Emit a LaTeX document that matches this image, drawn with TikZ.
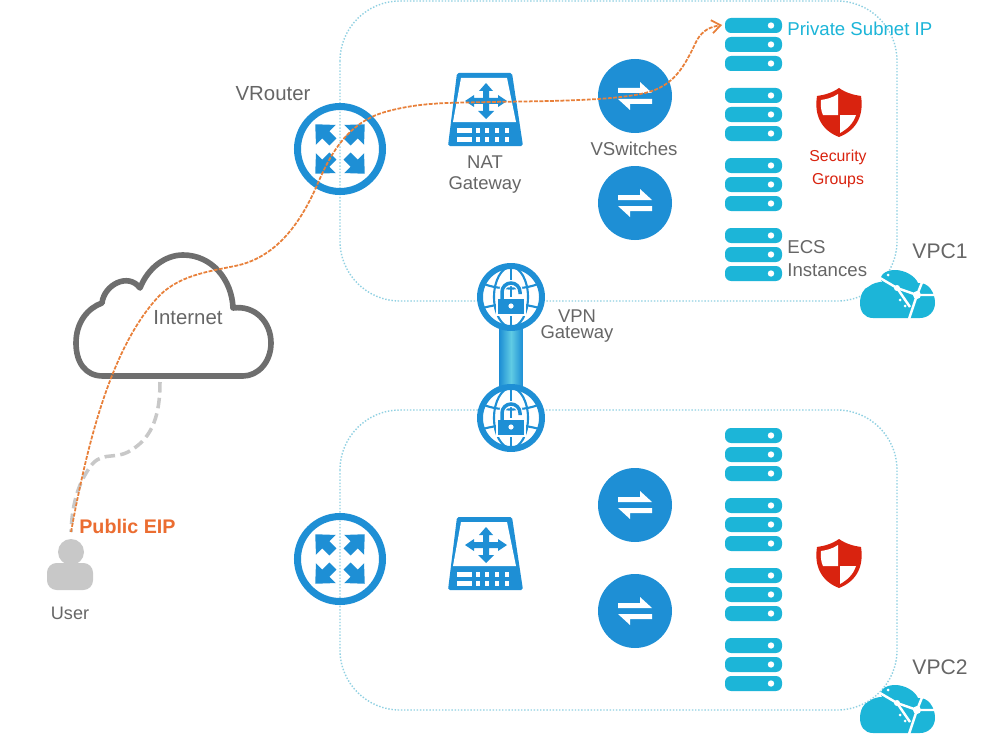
\documentclass[tikz,border=0pt]{standalone}
\usepackage{fontspec}
\setmainfont{Liberation Sans}
\usetikzlibrary{arrows.meta,shadings}
\definecolor{cblue}{HTML}{1E8FD5}
\definecolor{ccyan}{HTML}{1CB5D8}
\definecolor{cred}{HTML}{D9230F}
\definecolor{corange}{HTML}{E8803A}
\definecolor{ctxt}{HTML}{666666}
\definecolor{cdot}{HTML}{8FD0E2}
\definecolor{ccloud}{HTML}{6E6E6E}
\definecolor{cgrey}{HTML}{C8C8C8}
\tikzset{
 x=0.02cm,y=-0.02cm,
 lab/.style={inner sep=0pt,text=ctxt,align=center,font=\fontsize{10.6}{12}\selectfont},
 labbig/.style={lab,font=\fontsize{11.6}{13}\selectfont},
 vpcbox/.style={draw=cdot,line width=0.8pt,densely dotted,rounded corners=1.2cm},
 routerpic/.pic={
  \draw[cblue,line width=4pt] (0,0) circle (42.5);
  \foreach \a in {45,135,225,315}{
   \fill[cblue,rotate=\a] (35,0)--(20,14)--(20,5)--(10,5)--(10,-5)--(20,-5)--(20,-14)--cycle;}
 },
 natpic/.pic={
  \fill[cblue,rounded corners=1pt] (-29,-37)--(26,-37)--(37,36)--(-38,36)--cycle;
  \fill[white] (-25,-32)--(21,-32)--(30,12)--(-33,12)--cycle;
  \fill[cblue] (-21,-9)--(-12,-15)--(-12,-12)--(-3,-12)--(-3,-19)--(-7,-19)--(0,-27)--(7,-19)--(3,-19)--(3,-12)--(12,-12)--(12,-15)--(21,-9)--(12,-3)--(12,-6)--(3,-6)--(3,1)--(8,1)--(0,9)--(-8,1)--(-3,1)--(-3,-6)--(-12,-6)--(-12,-3)--cycle;
  \foreach \y in {18,27}{
   \fill[white] (-29,\y) rectangle (-14,\y+4.5);
   \foreach \x in {-8,1,11,21}{\fill[white] (\x-2,\y) rectangle (\x+2,\y+4.5);}
  }
 },
 switchpic/.pic={
  \fill[cblue] (0,0) circle (37);
  \fill[white] (-17,-8)--(5,-8)--(5,-14)--(17,-3)--(-17,-3)--cycle;
  \fill[white] (17,8)--(-5,8)--(-5,14)--(-17,3)--(17,3)--cycle;
 },
 serverpic/.pic={
  \foreach \y in {0,19,38}{
   \fill[ccyan,rounded corners=3.5pt] (0,\y) rectangle (57,\y+15);
   \fill[white] (46,\y+7.5) circle (3.2);
  }
 },
 shieldpic/.pic={
  \fill[cred] (0,-25) .. controls (7,-20) and (15,-18) .. (22,-17) .. controls (25,2) and (18,17) .. (0,24) .. controls (-18,17) and (-25,2) .. (-22,-17) .. controls (-15,-18) and (-7,-20) .. (0,-25) -- cycle;
  \fill[white] (-1,-19) .. controls (-7,-15) and (-12,-14) .. (-18,-13) .. controls (-18.5,-7) and (-18,-2) .. (-16,2) -- (-1,2) -- cycle;
  \fill[white] (1,2) -- (17,2) .. controls (14,11) and (8,16) .. (1,20) -- cycle;
 },
 vpnpic/.pic={
  \fill[white] (0,0) circle (32);
  \draw[cblue,line width=1.2pt] (0,0) ellipse (17 and 30);
  \draw[cblue,line width=1.2pt] (0,-30) -- (0,30);
  \draw[cblue,line width=1.2pt] (-27,-13) .. controls (-12,-7) and (12,-7) .. (27,-13);
  \draw[cblue,line width=1.2pt] (-28,11) .. controls (-12,6) and (12,6) .. (28,11);
  \fill[white] (-15,0) rectangle (15,19);
  \draw[white,line width=3.4pt] (-9,3) -- (-9,-5) arc[start angle=180,end angle=0,x radius=9,y radius=-9] -- (9,-3);
  \draw[cblue,line width=3.4pt] (0,0) circle (31);
  \draw[cblue,line width=2pt] (-9,3) -- (-9,-5) arc[start angle=180,end angle=0,x radius=9,y radius=-9] -- (9,-3);
  \fill[cblue] (-13,2) rectangle (13,17);
  \fill[white] (0,9) circle (2.6);
 },
 vpccloudpic/.pic={
  \fill[ccyan] (13,48) .. controls (4,48) and (0,41) .. (0,33) .. controls (0,25) and (4,18) .. (8,17) .. controls (13,13) and (18,12) .. (22,12) .. controls (18,6) and (25,0) .. (35,0) .. controls (45,0) and (55,6) .. (58,13) .. controls (68,12) and (75,22) .. (75,33) .. controls (75,42) and (68,48) .. (60,48) -- cycle;
  \draw[white,line width=1.4pt,line cap=round] (20,8) -- (37,18) -- (57,25) -- (76,25);
  \draw[white,line width=1.4pt] (57,25) -- (49,49);
  \draw[white,line width=1.4pt] (57,25) -- (63,10);
  \draw[white,line width=1.4pt] (37,18) -- (50,37);
  \fill[white] (37,18) circle (3) (57,25) circle (4) (28,5) circle (1.5) (40,30) circle (1.5) (45,36) circle (1.5);
 },
}
\begin{document}
\begin{tikzpicture}
\useasboundingbox (0,0) rectangle (1000,740);
\fill[white] (0,0) rectangle (1000,740);

% VPC frames
\draw[vpcbox] (340,1) rectangle (897,301);
\draw[vpcbox] (340,410) rectangle (897,710);

% Internet cloud
\draw[ccloud,line width=3.2pt,line join=round] (103,376) .. controls (85,376) and (76,362) .. (76,343) .. controls (76,322) and (88,308) .. (102,303) .. controls (104,285) and (128,272) .. (140,288) .. controls (148,268) and (165,255) .. (183,255) .. controls (212,255) and (232,280) .. (233,308) .. controls (255,305) and (271,322) .. (271,343) .. controls (271,362) and (258,376) .. (243,376) -- cycle;

% coordinates of connector ends
\coordinate (userTop) at (71,532);
\coordinate (cloudBase) at (160,382);
\coordinate (serverIn) at (722,25);
\coordinate (vpnTop) at (511,297);
\coordinate (vpnBot) at (511,418);

% VPN link
\shade[left color=cblue,right color=cblue,middle color=ccyan!70!white] ([xshift=-11.5*0.02cm]vpnTop) rectangle ([xshift=11.5*0.02cm]vpnBot);

% icons VPC1
\pic (r1) at (340,149) {routerpic};
\pic (n1) at (486,110) {natpic};
\pic (s1) at (635,96) {switchpic};
\pic (s2) at (635,203) {switchpic};
\pic (a1) at (725,18) {serverpic};
\pic (a2) at (725,88) {serverpic};
\pic (a3) at (725,158) {serverpic};
\pic (a4) at (725,228) {serverpic};
\pic (sh1) at (839,113) {shieldpic};
\pic (c1) at (860,270) {vpccloudpic};
% icons VPC2
\pic (r2) at (340,559) {routerpic};
\pic (n2) at (486,554) {natpic};
\pic (s3) at (635,505) {switchpic};
\pic (s4) at (635,611) {switchpic};
\pic (b1) at (725,428) {serverpic};
\pic (b2) at (725,498) {serverpic};
\pic (b3) at (725,568) {serverpic};
\pic (b4) at (725,638) {serverpic};
\pic (sh2) at (839,564) {shieldpic};
\pic (c2) at (860,685) {vpccloudpic};
% VPN
\pic (v1) at (vpnTop) {vpnpic};
\pic (v2) at (vpnBot) {vpnpic};

% user
\fill[cgrey] (71,552) circle (13);
\fill[cgrey,rounded corners=5.5pt] (47,590) -- (47,563) -- (93,563) -- (93,590) -- cycle;

% connectors
\draw[cgrey,line width=2pt,dash pattern=on 6pt off 3pt] (cloudBase) .. controls (160,420) and (150,440) .. (128,452) .. controls (112,460) and (100,450) .. (88,470) .. controls (78,485) and (72,505) .. (userTop);
\draw[corange,line width=1pt,dash pattern=on 2.2pt off 0.8pt,-{Straight Barb[length=5pt,width=7.5pt]}] (userTop) .. controls (88,440) and (112,345) .. (160,295) .. controls (180,276) and (205,272) .. (235,266) .. controls (275,258) and (300,225) .. (318,183) .. controls (332,150) and (350,122) .. (385,112) .. controls (420,102) and (450,103) .. (490,102) .. controls (550,101) and (610,101) .. (645,93) .. controls (675,86) and (685,65) .. (697,40) .. controls (703,30) and (710,27) .. (serverIn);

% labels
\node[labbig] (tR) at (273,94) {VRouter};
\node[lab,font=\fontsize{10.5}{11}\selectfont] (tN) at (485,175) {NAT\\[1pt]Gateway};
\node[lab] (tS) at (634,149) {VSwitches};
\node[lab,text=ccyan,anchor=west] (tP) at (787,29) {Private Subnet IP};
\node[lab,text=cred,font=\fontsize{9}{13}\selectfont] (tG) at (838,169) {Security\\[-0.2pt]Groups};
\node[lab,anchor=west] (tE) at (787,247) {ECS};
\node[lab,anchor=west] (tI) at (787,270) {Instances};
\node[lab,font=\fontsize{12}{14}\selectfont] (tV1) at (940,251) {VPC1};
\node[lab,font=\fontsize{12}{14}\selectfont] (tV2) at (940,667) {VPC2};
\node[lab,font=\fontsize{10.5}{9.6}\selectfont] (tG2) at (577,326) {VPN\\Gateway};
\node[labbig] (tI2) at (188,318) {Internet};
\node[lab,text=corange!85!red,font=\bfseries\fontsize{11.2}{13}\selectfont,anchor=west] (tE2) at (79,526) {Public EIP};
\node[lab,font=\fontsize{10.3}{12}\selectfont] (tU) at (70,613) {User};
\end{tikzpicture}
\end{document}
